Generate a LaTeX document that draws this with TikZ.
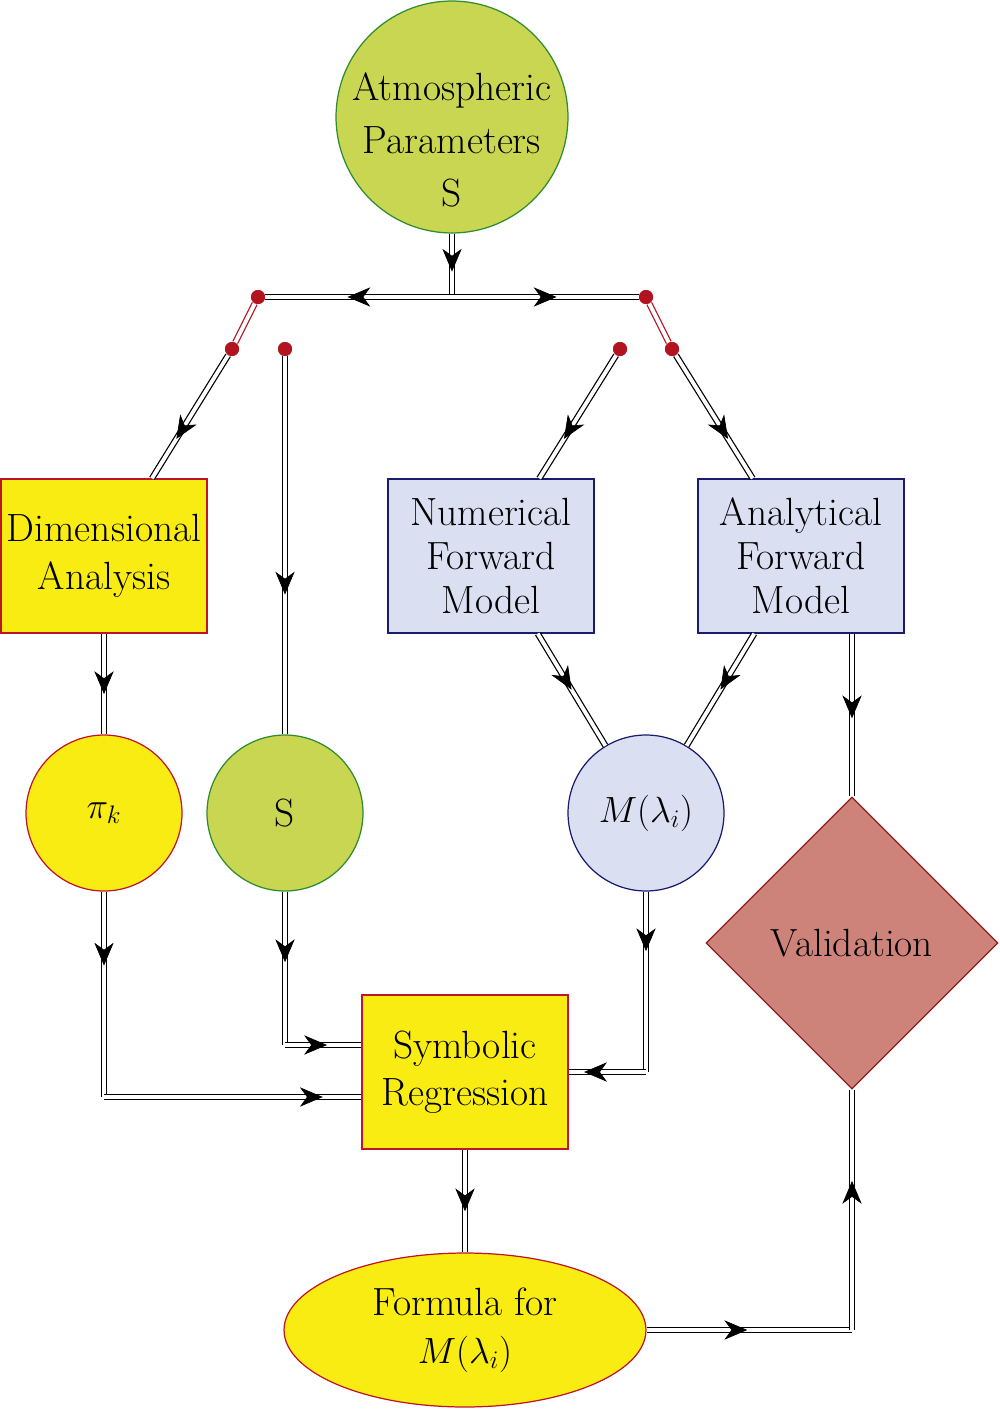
\documentclass[tikz,border=0pt]{standalone}
\usetikzlibrary{shapes.geometric,arrows.meta,decorations.markings,calc}
\definecolor{gfill}{HTML}{C8D652}
\definecolor{gline}{HTML}{2E8B2E}
\definecolor{yfill}{HTML}{F8EC12}
\definecolor{yline}{HTML}{C0142A}
\definecolor{lfill}{HTML}{DADFF2}
\definecolor{lline}{HTML}{1A1A6E}
\definecolor{vfill}{HTML}{CD837A}
\definecolor{vline}{HTML}{8B1E1E}
\definecolor{rdot}{HTML}{B3131E}
\newcommand{\dconn}[3][black]{\draw[cl,draw=#1] #3; \path[ma=#2] #3;}
\begin{document}
\begin{tikzpicture}[x=0.02cm,y=-0.02cm,
  font=\fontsize{22.4}{27}\selectfont,
  cl/.style={double, line width=0.7pt, double distance=2.2pt},
  ma/.style={postaction={decorate},decoration={markings,mark=at position #1 with {\arrow{Stealth[length=13pt,width=11pt,inset=4pt]}}}},
  gc/.style={circle, fill=gfill, draw=gline, line width=0.7pt, inner sep=0pt},
  yb/.style={rectangle, fill=yfill, draw=yline, line width=0.7pt, minimum width=4.12cm, minimum height=3.08cm, align=center, inner sep=0pt},
  lb/.style={rectangle, fill=lfill, draw=lline, line width=0.7pt, minimum width=4.12cm, minimum height=3.08cm, align=center, inner sep=0pt},
  dot/.style={circle, fill=rdot, inner sep=0pt, minimum size=0.28cm}]
\useasboundingbox (0,0) rectangle (1000,1409);

% nodes
\node[gc, minimum size=4.64cm] (A) at (452,117) {};
\node[align=center, font=\fontsize{22.4}{30}\selectfont] (At) at (452,140) {Atmospheric\\Parameters\\S};
\coordinate (J) at (452,297);
\node[dot] (dL) at (258,297) {};
\node[dot] (dR) at (646,297) {};
\node[dot] (d1) at (232,349) {};
\node[dot] (d2) at (285,349) {};
\node[dot] (d3) at (620,349) {};
\node[dot] (d4) at (672,349) {};

\node[yb] (DA) at (104,556) {Dimensional\\Analysis};
\node[lb, font=\fontsize{22.4}{25}\selectfont] (NFM) at (491,556) {Numerical\\Forward\\Model};
\node[lb, font=\fontsize{22.4}{25}\selectfont] (AFM) at (801,556) {Analytical\\Forward\\Model};

\node[circle, fill=yfill, draw=yline, line width=0.7pt, minimum size=3.12cm, inner sep=0pt] (P) at (104,813) {$\pi_k$};
\node[gc, minimum size=3.12cm] (S) at (285,813) {S};
\node[circle, fill=lfill, draw=lline, line width=0.7pt, minimum size=3.12cm, inner sep=0pt] (M) at (646,813) {$M(\lambda_i)$};

\node[diamond, aspect=1, fill=vfill, draw=vline, line width=0.7pt, minimum size=5.84cm, inner sep=0pt] (V) at (852,943) {Validation};
\node[yb] (SR) at (465,1072) {Symbolic\\Regression};
\node[ellipse, fill=yfill, draw=yline, line width=0.7pt, minimum width=7.24cm, minimum height=3.08cm, inner sep=0pt, align=center] (F) at (465,1330) {Formula for\\$M(\lambda_i)$};

% corner coordinates
\coordinate (e1) at ($(SR.west)+(0,25)$);
\coordinate (c1) at (P.south |- e1);
\coordinate (e2) at ($(SR.west)+(0,-27)$);
\coordinate (c2) at (S.south |- e2);
\coordinate (c3) at (M.south |- SR.east);
\coordinate (c4) at (V.south |- F.east);
\coordinate (a1) at (AFM.south -| V.north);

% connectors
\dconn{0.6}{(A) -- (J)}
\dconn{0.56}{(J) -- (dL)}
\dconn{0.56}{(J) -- (dR)}
\draw[cl, draw=rdot] (dL) -- (d1);
\draw[cl, draw=rdot] (dR) -- (d4);
\dconn{0.68}{(d1) -- (DA)}
\dconn{0.63}{(d2) -- (S)}
\dconn{0.68}{(d3) -- (NFM)}
\dconn{0.68}{(d4) -- (AFM)}
\dconn{0.6}{(DA) -- (P)}
\dconn{0.5}{(NFM) -- (M)}
\dconn{0.5}{(AFM) -- (M)}
\dconn{0.52}{(a1) -- (V.north)}
\dconn{0.36}{(P) -- (c1)}
\dconn{0.85}{(c1) -- (e1)}
\dconn{0.46}{(S) -- (c2)}
\dconn{0.55}{(c2) -- (e2)}
\dconn{0.33}{(M) -- (c3)}
\dconn{0.8}{(c3) -- (SR.east)}
\dconn{0.6}{(SR) -- (F)}
\dconn{0.49}{(F.east) -- (c4)}
\dconn{0.62}{(c4) -- (V.south)}

% redraw dots on top
\foreach \d in {dL,dR,d1,d2,d3,d4} \fill[rdot] (\d) circle (0.14cm);
\end{tikzpicture}
\end{document}
